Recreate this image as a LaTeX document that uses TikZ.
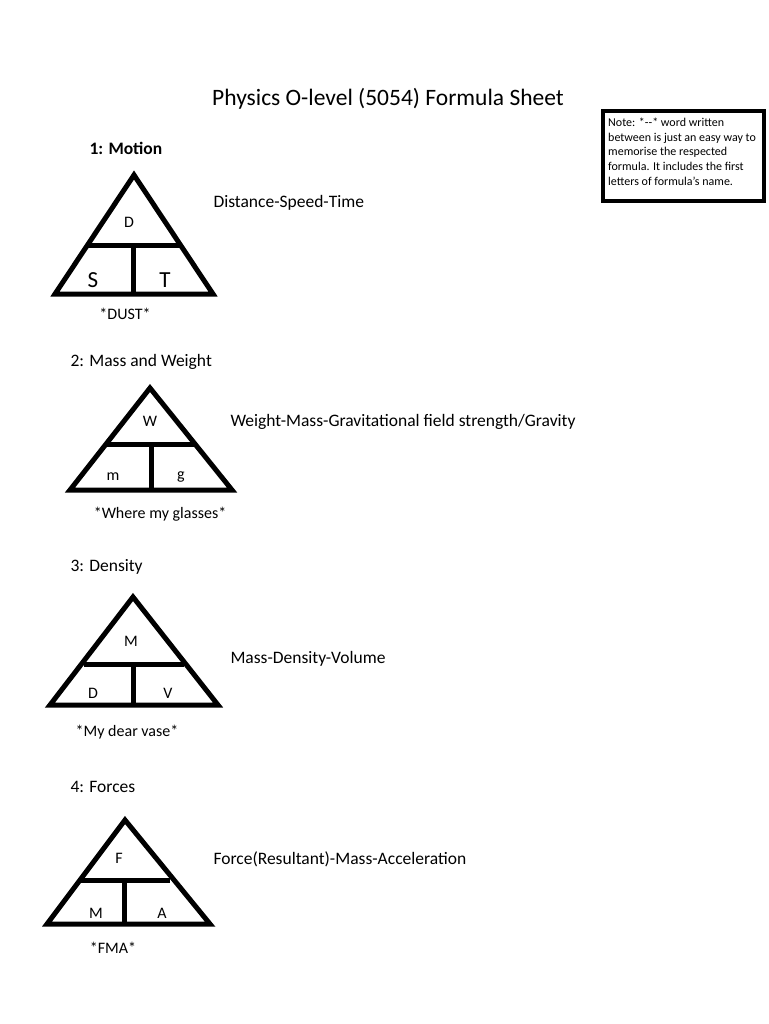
\documentclass[tikz,border=0pt]{standalone}
\usepackage{fontspec}
\setmainfont{Carlito}
\begin{document}
\begin{tikzpicture}[x=1pt,y=-1pt,
  tri/.style={line width=5pt,line join=miter},
  bar/.style={line width=5pt},
  lbl/.style={font=\fontsize{16}{18}\selectfont},
  big/.style={font=\fontsize{23}{26}\selectfont},
  txt/.style={font=\fontsize{17.5}{20}\selectfont,anchor=west},
  head/.style={font=\fontsize{17.5}{20}\selectfont,anchor=west}]
\useasboundingbox (0,0) rectangle (768,1024);
\node[font=\fontsize{23.5}{28}\selectfont] (title) at (388,99) {Physics O-level (5054) Formula Sheet};
\node[draw,line width=4pt,minimum width=161pt,minimum height=90pt,inner sep=4pt] (notebox) at (683.5,156) {};
\node[anchor=north west,align=left,font=\fontsize{12}{14.6}\selectfont,inner sep=0pt] (note) at (608,118) {Note: *-{}-* word written\\between is just an easy way to\\memorise the respected\\formula. It includes the first\\letters of formula's name.};
% 1
\node[head] (h1) at (86,148) {\textbf{1: Motion}};
\draw[tri] (134,175) -- (55,294) -- (213,294) -- cycle;
\draw[bar] (88,245) -- (181,245);
\draw[bar] (133,245) -- (133,294);
\node[lbl] (d1) at (129,222) {D};
\node[big] (s1) at (93,280) {S};
\node[big] (t1) at (165,280) {T};
\node[lbl] (m1) at (125,314) {*DUST*};
\node[txt] (e1) at (210,203) {Distance-Speed-Time};
% 2
\node[head] (h2) at (67,362) {2: Mass and Weight};
\draw[tri] (150,388) -- (70,490) -- (232,490) -- cycle;
\draw[bar] (105,444) -- (196,444);
\draw[bar] (151,444) -- (151,490);
\node[lbl] (d2) at (150,421) {W};
\node[lbl] (s2) at (113,477) {m};
\node[lbl] (t2) at (181,477) {g};
\node[lbl] (m2) at (160,514) {*Where my glasses*};
\node[txt] (e2) at (227,422) {Weight-Mass-Gravitational field strength/Gravity};
% 3
\node[head] (h3) at (67,567) {3: Density};
\draw[tri] (133,597) -- (50,705) -- (218,705) -- cycle;
\draw[bar] (84,664) -- (184,664);
\draw[bar] (133,664) -- (133,705);
\node[lbl] (d3) at (131,641) {M};
\node[lbl] (s3) at (93,693) {D};
\node[lbl] (t3) at (168,693) {V};
\node[lbl] (m3) at (127,732) {*My dear vase*};
\node[txt] (e3) at (227,659) {Mass-Density-Volume};
% 4
\node[head] (h4) at (67,787) {4: Forces};
\draw[tri] (125,820) -- (47,924) -- (210,924) -- cycle;
\draw[bar] (80,880) -- (170,880);
\draw[bar] (124,880) -- (124,924);
\node[lbl] (d4) at (119,858) {F};
\node[lbl] (s4) at (96,913) {M};
\node[lbl] (t4) at (162,913) {A};
\node[lbl] (m4) at (113,948) {*FMA*};
\node[txt] (e4) at (210,859) {Force(Resultant)-Mass-Acceleration};
\end{tikzpicture}
\end{document}
